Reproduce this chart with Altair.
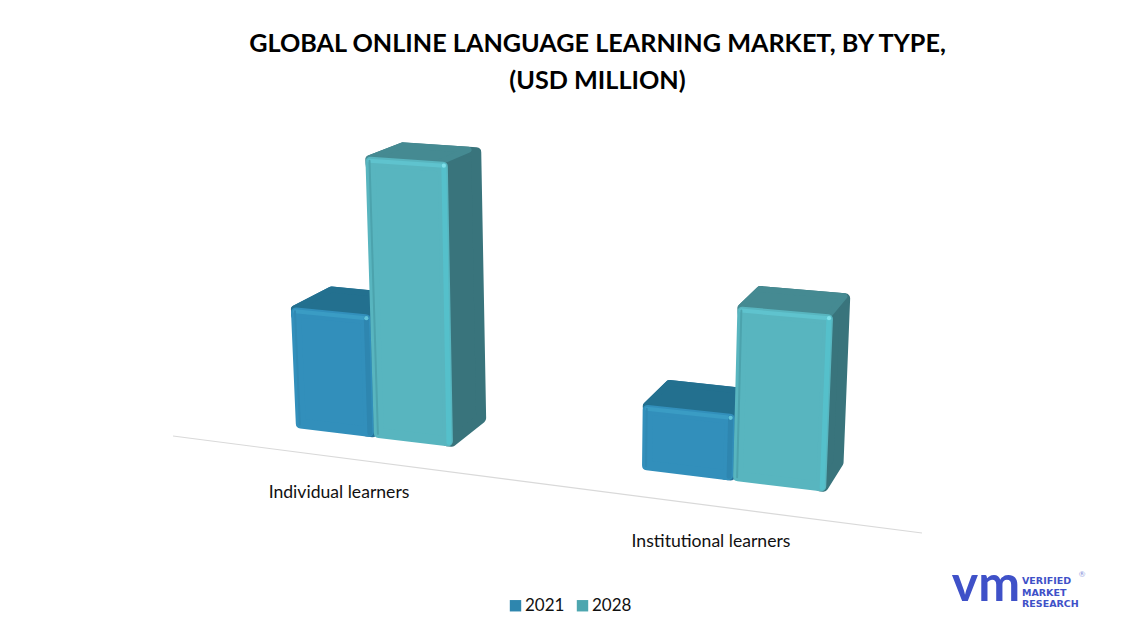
import math
import altair as alt
import pandas as pd

title_lines = ["GLOBAL ONLINE LANGUAGE LEARNING MARKET, BY TYPE,", "(USD MILLION)"]
categories = ["Individual learners", "Institutional learners"]
years = ["2021", "2028"]
values_2021 = [122, 66]
values_2028 = [283, 176]
logo_words = ["VERIFIED", "MARKET", "RESEARCH"]

FONT = "Lato"
# Page-pixel scales: the plot runs to the page's right and bottom margins.
TOP = 100
xs = alt.Scale(domain=[8, 1125], range=[0, 1117], nice=False, zero=False)
ys = alt.Scale(domain=[TOP, 629], range=[0, 529], nice=False, zero=False)

# Simple perspective model of the 3D drawing
def base_y(x):
    return 428 + 0.1208 * (x - 296)
def front_top(xb, v, xc):
    h = v * (1 + 0.00018 * (xb - xc))
    return (xb + h * 0.000157 * (xb - 570), base_y(xb) - h)
VP = (1243, -180)
def back(p, f=0.042):
    return (p[0] + f * (VP[0] - p[0]), p[1] + f * (VP[1] - p[1]))
def forward(p, t=0.5):
    b = back(p)
    return (p[0] + t * (p[0] - b[0]), p[1] + t * (p[1] - b[1]))

def inset(pts, d=5):
    """Offset a convex polygon inwards by d along its edge normals."""
    n = len(pts)
    cx = sum(p[0] for p in pts) / n
    cy = sum(p[1] for p in pts) / n
    lines = []
    for i in range(n):
        (x1, y1), (x2, y2) = pts[i], pts[(i + 1) % n]
        dx, dy = x2 - x1, y2 - y1
        ln = math.hypot(dx, dy)
        nx, ny = -dy / ln, dx / ln
        if (cx - x1) * nx + (cy - y1) * ny < 0:
            nx, ny = -nx, -ny
        lines.append((nx, ny, nx * x1 + ny * y1 + d))
    out = []
    for i in range(n):
        a1, b1, c1 = lines[i - 1]
        a2, b2, c2 = lines[i]
        det = a1 * b2 - a2 * b1
        out.append(((c1 * b2 - c2 * b1) / det, (a1 * c2 - a2 * c1) / det))
    return out

X = alt.X("x:Q", scale=xs, axis=None)
Y = alt.Y("y:Q", scale=ys, axis=None)
def path(pts):
    return pd.DataFrame({"x": [p[0] for p in pts], "y": [p[1] for p in pts], "i": range(len(pts))})
def face(pts, color, fill=True, width=10):
    pts = list(pts)
    if fill:
        q = inset(pts, width / 2)
        pts = q + [q[0]]
        mark = alt.Chart(path(pts)).mark_line(fill=color, stroke=color, strokeWidth=width,
                                              strokeJoin="round", strokeCap="round", clip=False)
    else:
        mark = alt.Chart(path(pts)).mark_line(stroke=color, strokeWidth=width,
                                              strokeJoin="round", strokeCap="round", clip=False)
    return mark.encode(x=X, y=Y, order="i:Q")

# bar edges along the floor line for each category
slots = [(296, 374, 453), (642, 733, 826)]
palette = {
    "2021": dict(front="#328FBB", top="#23708F", side="#26739A", bevel="#3A9CC4", right="#2E86B0", spec="#62C4DA", left="#3089B3"),
    "2028": dict(front="#58B5BF", top="#458A92", side="#39747C", bevel="#5FC3CE", right="#55C0CB", spec="#7FE0EA", left="#4CA3AD"),
}

layers = []
# axis floor line
floor = pd.DataFrame({"x": [173], "x2": [922], "y": [436], "y2": [533]})
layers.append(alt.Chart(floor).mark_rule(color="#D9D9D9", strokeWidth=1.2).encode(
    x=X, x2="x2:Q", y=Y, y2="y2:Q"))

# legend carrier, hidden behind the tallest bar
leg = pd.DataFrame({"year": years, "x": [410, 410], "y": [300, 300]})
layers.append(alt.Chart(leg).mark_square(size=1, opacity=1).encode(
    x=X, y=Y,
    color=alt.Color("year:N", scale=alt.Scale(domain=years, range=["#2E86AE", "#4DA6AF"]),
                    legend=alt.Legend(title=None, orient="none", legendX=499, legendY=497,
                                      direction="horizontal", symbolType="square", symbolSize=130,
                                      labelFont=FONT, labelFontSize=17, labelColor="#111111",
                                      columnPadding=9, labelOffset=1, symbolStrokeWidth=0))))

for c, (l, m, r) in enumerate(slots):
    for year, v, (a, b) in zip(years, (values_2021[c], values_2028[c]), ((l, m), (m, r))):
        col = palette[year]
        xc = (a + b) / 2
        bl = (a, base_y(a)); br = (b, base_y(b))
        tl = front_top(a, v, xc); tr = front_top(b, v, xc)
        # silhouette in the side colour, top face laid over it, front face last
        tl_u = (tl[0] + 0.5, tl[1] + 10)
        br_u = (br[0] - 10, br[1] - 1.2)
        layers.append(face([tl_u, tl, back(tl), back(tr), back(br), br, br_u], col["side"], width=10))
        layers.append(face([tl_u, forward(tr), back(tr), back(tl), tl], col["top"], width=6))
        layers.append(face([tl, tr, br, bl], col["front"]))
        # bevels
        q = inset([tl, tr, br, bl], 4)
        layers.append(face([q[0], q[1]], col["bevel"], fill=False, width=4))
        layers.append(face([q[1], q[2]], col["right"], fill=False, width=5))
        layers.append(face([q[3], q[0]], col["left"], fill=False, width=2))
        spec = pd.DataFrame({"x": [q[1][0]], "y": [q[1][1]]})
        layers.append(alt.Chart(spec).mark_point(filled=True, size=18, color=col["spec"], opacity=1).encode(x=X, y=Y))

# category labels
cat_df = pd.DataFrame({"label": categories, "x": [339, 711], "y": [493, 542]})
layers.append(alt.Chart(cat_df).mark_text(font=FONT, fontSize=17.6, color="#111111").encode(x=X, y=Y, text="label:N"))

# logo as text
layers.append(alt.Chart(pd.DataFrame({"t": ["vm"], "x": [986], "y": [586]})).mark_text(
    font=FONT, fontSize=50, fontWeight="bold", color="#3F51C8").encode(x=X, y=Y, text="t:N"))
logo_df = pd.DataFrame({"t": logo_words, "x": [1022, 1022, 1022], "y": [581, 593, 604]})
layers.append(alt.Chart(logo_df).mark_text(
    font="DejaVu Sans", fontSize=9.5, fontWeight="bold", align="left", color="#3F51C8").encode(x=X, y=Y, text="t:N"))
layers.append(alt.Chart(pd.DataFrame({"t": ["®"], "x": [1082], "y": [575]})).mark_text(
    font=FONT, fontSize=8, color="#8C96DC").encode(x=X, y=Y, text="t:N"))

chart = alt.layer(*layers).properties(
    width=1117, height=529,
    padding={"left": 0, "right": 0, "top": 92, "bottom": 0},
    autosize=alt.AutoSizeParams(type="none"),
    title=alt.TitleParams(text=title_lines, anchor="middle", font=FONT, fontSize=25.2, fontWeight="bold",
                          color="#000000", dx=31, offset=6, lineHeight=37),
).configure_view(stroke=None)

chart.save("out.html", embed_options={"renderer": "svg", "actions": False})
